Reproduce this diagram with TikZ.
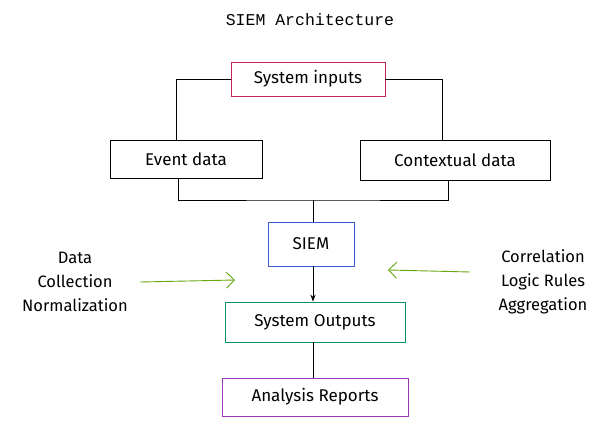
\documentclass[tikz,border=0pt]{standalone}
\usepackage{fontspec}
\setmainfont{Fira Sans}
\setmonofont{Liberation Mono}
\usetikzlibrary{arrows.meta}
\definecolor{cred}{HTML}{C2255C}
\definecolor{cblue}{HTML}{3B5BDB}
\definecolor{cgreen}{HTML}{099268}
\definecolor{cpurple}{HTML}{9C36B5}
\definecolor{carrow}{HTML}{66A80F}
\begin{document}
\begin{tikzpicture}[x=1pt,y=-1pt,
  box/.style={draw, line width=0.9pt, minimum height=#1, inner sep=0pt, font=\fontsize{17}{19}\selectfont},
  conn/.style={draw, line width=0.9pt},
  lab/.style={align=center, font=\fontsize{16.5}{24}\selectfont}]
\useasboundingbox (0,0) rectangle (608,426);
\node[font=\ttfamily\fontsize{16.5}{18}\selectfont] (title) at (310,20) {SIEM Architecture};
\node[box=34pt, draw=cred, minimum width=154pt] (in) at (308,79) {System inputs};
\node[box=38pt, minimum width=152pt] (ev) at (186,159) {Event data};
\node[box=40pt, minimum width=190pt] (ctx) at (455,160) {Contextual data};
\node[box=44pt, draw=cblue, minimum width=86pt] (siem) at (311,244) {SIEM};
\node[box=40pt, draw=cgreen, minimum width=180pt] (out) at (315,322) {System Outputs};
\node[box=38pt, draw=cpurple, minimum width=186pt] (rep) at (315,397) {Analysis Reports};
\coordinate (j) at (313,200);
\draw[conn] (in.west) -| (ev.north -| 176,0);
\draw[conn] (in.east) -| (ctx.north -| 442,0);
\draw[conn] (ev.south -| 178,0) |- (j) -| (ctx.south -| 448,0);
\draw[conn] (j) -- (siem.north -| j);
\draw[conn,-{Stealth[length=7pt]}] (siem.south -| j) -- (out.north -| j);
\draw[conn] (out.south -| j) -- (rep.north -| j);
\node[lab] (l) at (75,282) {Data\\Collection\\Normalization};
\node[lab] (r) at (543,282) {Correlation\\Logic Rules\\Aggregation};
\coordinate (la) at (140,282);
\coordinate (ra) at (470,272);
\draw[conn,carrow,-{Straight Barb[length=8pt]}] (la) -- (235,280);
\draw[conn,carrow,-{Straight Barb[length=8pt]}] (ra) -- (388,270);
\end{tikzpicture}
\end{document}
